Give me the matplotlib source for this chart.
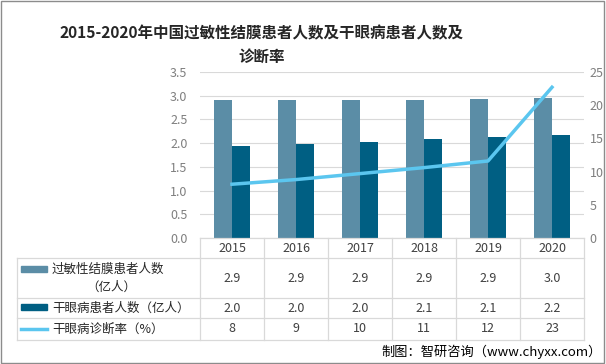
import numpy as np
import matplotlib.pyplot as plt
import matplotlib.transforms as mtransforms
from matplotlib.lines import Line2D
from matplotlib.patches import Rectangle

plt.rcParams['font.family'] = ['Noto Sans CJK SC', 'DejaVu Sans']

#%% Data
years = ['2015', '2016', '2017', '2018', '2019', '2020']
allergic = [2.90, 2.92, 2.92, 2.92, 2.94, 2.95]     # 过敏性结膜患者人数（亿人）
dry_eye = [1.94, 1.99, 2.03, 2.08, 2.13, 2.18]      # 干眼病患者人数（亿人）
rate = [8.1, 8.8, 9.7, 10.6, 11.6, 22.7]            # 干眼病诊断率（%）
allergic_txt = ['2.9', '2.9', '2.9', '2.9', '2.9', '3.0']
dry_eye_txt = ['2.0', '2.0', '2.0', '2.1', '2.1', '2.2']
rate_txt = ['8', '9', '10', '11', '12', '23']
row_labels = ['过敏性结膜患者人数\n（亿人）', '干眼病患者人数（亿人）', '干眼病诊断率（%）']
title = '2015-2020年中国过敏性结膜患者人数及干眼病患者人数及\n诊断率'
source = '制图：智研咨询（www.chyxx.com）'

c_light = '#5b8da6'
c_dark = '#005f83'
c_line = '#5bc6ef'
c_grid = '#d9d9d9'
c_tick = '#7f7f7f'

W, H = 606, 364
fig = plt.figure(figsize=(W / 100, H / 100), dpi=100)

def fy(py):
    return 1 - py / H

def fx(px):
    return px / W

# Plot area
ax = fig.add_axes([fx(200), fy(238), fx(584) - fx(200), fy(72) - fy(238)])
ax2 = ax.twinx()
x = np.arange(len(years))
bw = 0.28
ax.bar(x - bw / 2, allergic, bw, color=c_light, zorder=3)
ax.bar(x + bw / 2, dry_eye, bw, color=c_dark, zorder=3)
ax2.plot(x, rate, color=c_line, lw=2.5, zorder=4)

ax.set_xlim(-0.5, len(years) - 0.5)
ax.set_ylim(0, 3.5)
ax2.set_ylim(0, 25)
ax.set_yticks(np.arange(0, 3.51, 0.5))
ax.set_yticklabels([f'{v:.1f}' for v in np.arange(0, 3.51, 0.5)])
ax2.set_yticks(np.arange(0, 26, 5))
ax.set_xticks([])
ax.grid(axis='y', color=c_grid, lw=0.8, zorder=0)
ax.set_axisbelow(True)
for a in (ax, ax2):
    for s in a.spines.values():
        s.set_visible(False)
    a.tick_params(axis='y', length=0, labelsize=9, labelcolor=c_tick)
ax.tick_params(axis='y', pad=9)
ax2.tick_params(axis='y', pad=4)

# Data table below the plot
tr = mtransforms.blended_transform_factory(ax.transData, fig.transFigure)
left, right = fx(17), fx(584)
rows_y = [238, 258, 298, 318, 340]

def hline(py, x0, x1):
    fig.add_artist(Line2D([x0, x1], [fy(py), fy(py)], color=c_grid, lw=0.9,
                          transform=fig.transFigure))

def vline(px, y0, y1):
    fig.add_artist(Line2D([fx(px), fx(px)], [fy(y0), fy(y1)], color=c_grid, lw=0.9,
                          transform=fig.transFigure))

hline(238, fx(200), right)
for py in rows_y[1:]:
    hline(py, left, right)
vline(17, 258, 340)
for i in range(len(years) + 1):
    px = 200 + i * 384 / len(years)
    vline(px, 238, 340)

text_kw = dict(fontsize=9, color='#404040', ha='center', va='center', transform=tr)
for i, yr in enumerate(years):
    fig.text(i, fy(248), yr, **text_kw)
    fig.text(i, fy(279), allergic_txt[i], **text_kw)
    fig.text(i, fy(308), dry_eye_txt[i], **text_kw)
    fig.text(i, fy(329), rate_txt[i], **text_kw)

# Row headers with legend keys
fig.add_artist(Rectangle((fx(21), fy(272)), fx(26), fy(266) - fy(272), color=c_light,
                         transform=fig.transFigure))
fig.add_artist(Rectangle((fx(21), fy(310)), fx(26), fy(304) - fy(310), color=c_dark,
                         transform=fig.transFigure))
fig.add_artist(Line2D([fx(21), fx(47)], [fy(329), fy(329)], color=c_line, lw=2.5,
                      transform=fig.transFigure))
fig.text(fx(52), fy(269), '过敏性结膜患者人数', fontsize=9, color='#262626', va='center')
fig.text(fx(111), fy(287), '（亿人）', fontsize=9, color='#262626', va='center', ha='center')
fig.text(fx(52), fy(308), row_labels[1], fontsize=9, color='#262626', va='center')
fig.text(fx(52), fy(329), row_labels[2], fontsize=9, color='#262626', va='center')

# Title and source
fig.text(fx(262), fy(45), title, fontsize=11.2, fontweight='bold', color='#262626',
         ha='center', va='center', linespacing=1.6)
fig.text(fx(602), fy(352), source, fontsize=9.5, color='black', ha='right', va='center')

# Outer border
fig.add_artist(Rectangle((0.002, 0.003), 0.995, 0.994, fill=False, ec='#8c8c8c', lw=1,
                         transform=fig.transFigure))

fig.savefig('out.png', dpi=100)
